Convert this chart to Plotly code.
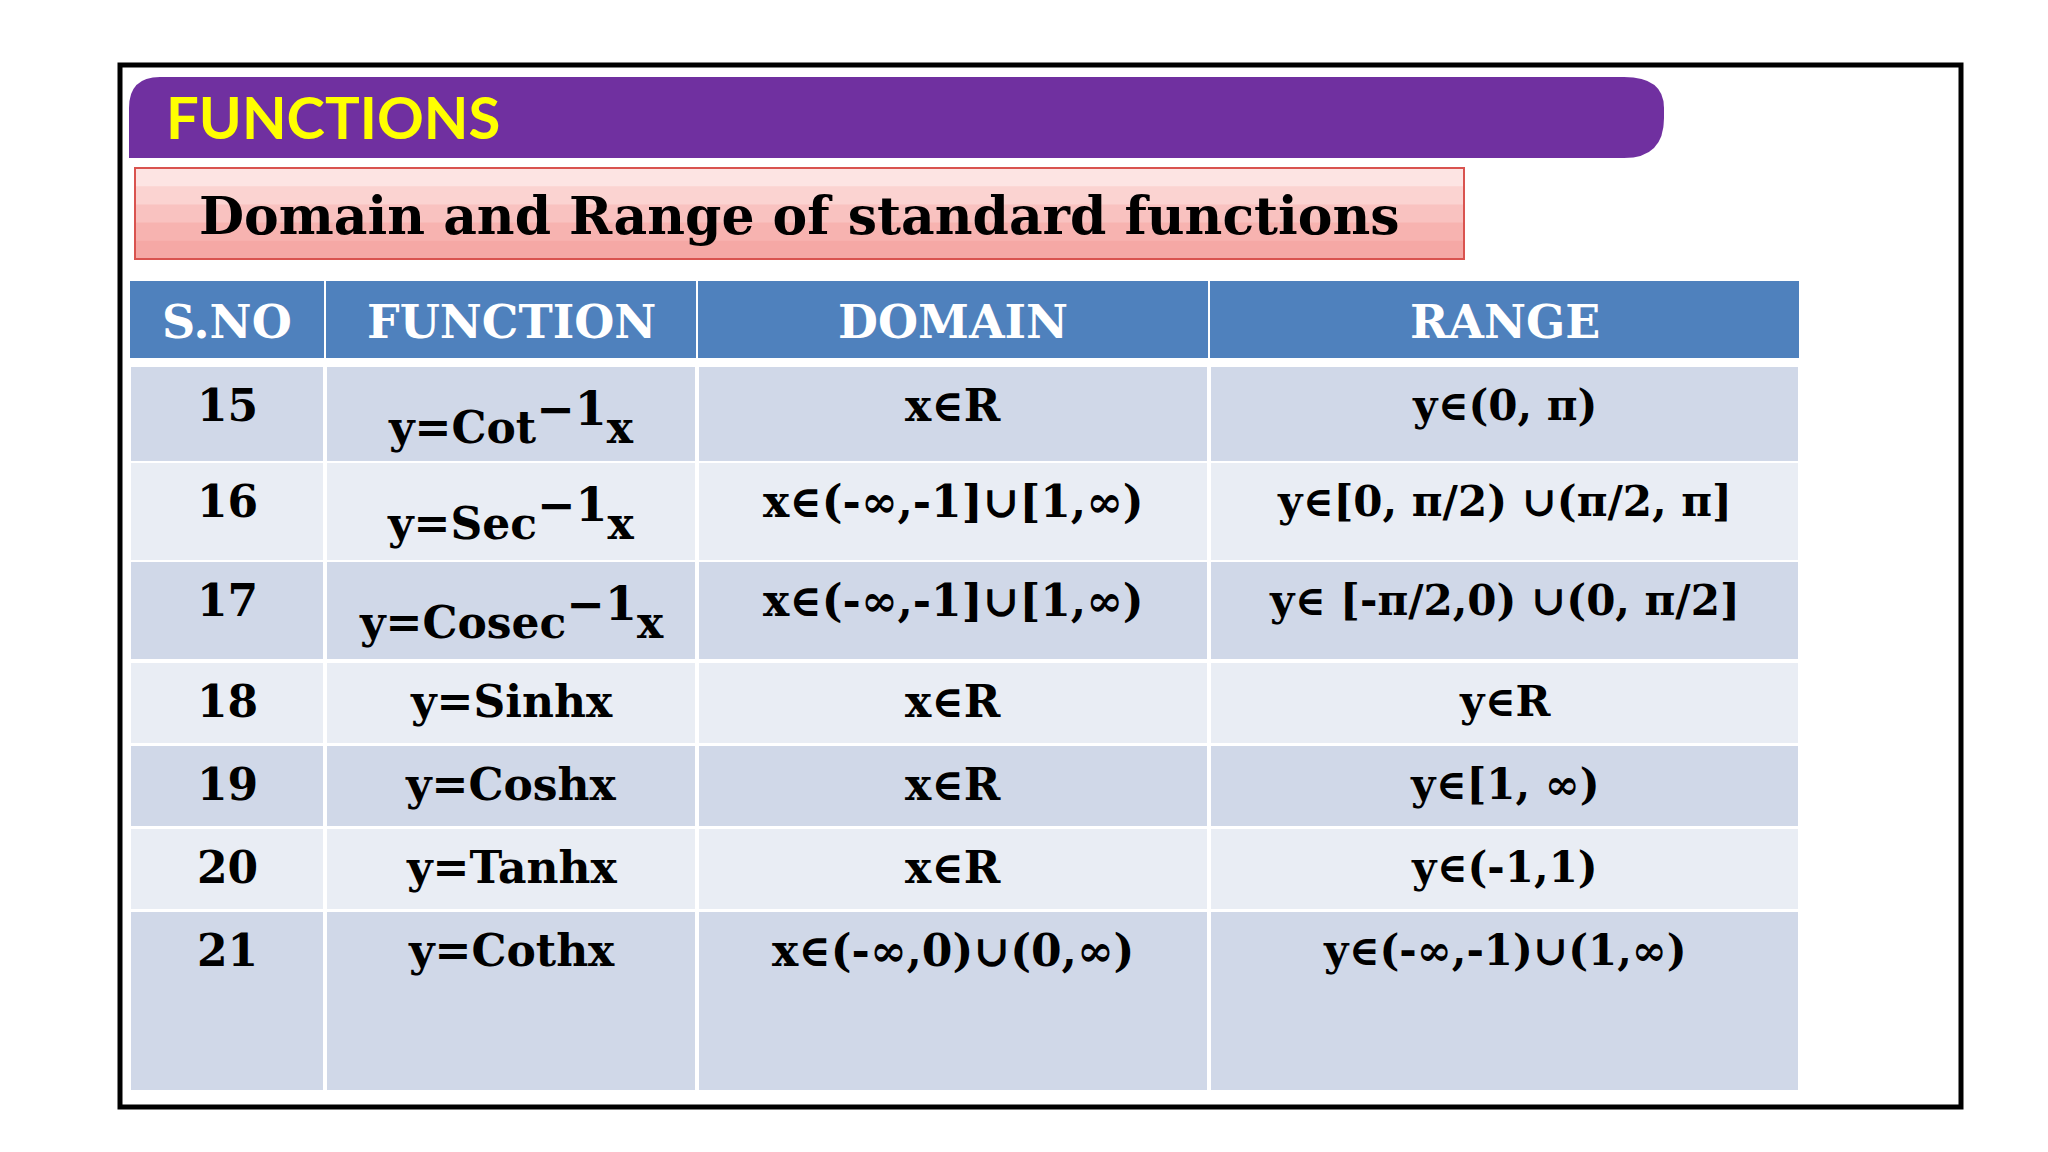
import plotly.graph_objects as go

# table content
headers = ["S.NO", "FUNCTION", "DOMAIN", "RANGE"]
sno = ["15", "16", "17", "18", "19", "20", "21"]
sup = "<sup><span style='font-size:46px'>−1</span></sup>"
functions = ["y=Cot" + sup + "x", "y=Sec" + sup + "x", "y=Cosec" + sup + "x",
             "y=Sinhx", "y=Coshx", "y=Tanhx", "y=Cothx"]
domains = ["x∈R", "x∈(-∞,-1]∪[1,∞)", "x∈(-∞,-1]∪[1,∞)", "x∈R", "x∈R", "x∈R",
           "x∈(-∞,0)∪(0,∞)"]
ranges = ["y∈(0, π)", "y∈[0, π/2) ∪(π/2, π]", "y∈ [-π/2,0) ∪(0, π/2]", "y∈R",
          "y∈[1, ∞)", "y∈(-1,1)", "y∈(-∞,-1)∪(1,∞)"]

col_edges = [121, 317, 689, 1201, 1792]
header_box = (273, 350)
row_boxes = [(359, 453), (455, 552), (554, 651), (655, 735), (738, 818), (821, 901), (904, 1082)]
row_fill = ["#D0D8E8", "#E9EDF4"]
serif = "DejaVu Serif"

fig = go.Figure()
shapes = []
ann = []

# outer frame
shapes.append(dict(type="rect", x0=112, x1=1953, y0=57, y1=1099,
                   line=dict(color="black", width=5), fillcolor="white", layer="below"))
# purple banner with rounded right end
shapes.append(dict(type="path",
                   path="M 121 150 L 121 100 Q 121 69 152 69 L 1616 69 Q 1656 69 1656 100 "
                        "L 1656 110 Q 1656 150 1616 150 Z",
                   fillcolor="#7030A0", line=dict(width=0)))
ann.append(dict(x=156, y=108, text="<b>FUNCTIONS</b>", xanchor="left", showarrow=False,
                font=dict(family="Lato", size=58, color="#FFFF00")))
# pink subtitle box (fake gradient)
pinks = ["#FDE4E3", "#FBD3D1", "#F9C2C0", "#F7B3B0", "#F5A8A5"]
for i, c in enumerate(pinks):
    y0 = 160 + i * 91 / len(pinks)
    shapes.append(dict(type="rect", x0=127, x1=1456, y0=y0, y1=y0 + 91 / len(pinks) + 1,
                       fillcolor=c, line=dict(width=0)))
shapes.append(dict(type="rect", x0=127, x1=1456, y0=160, y1=251,
                   line=dict(color="#D9534F", width=2)))
ann.append(dict(x=791, y=207, text="<b>Domain and Range of standard functions</b>",
                showarrow=False, font=dict(family=serif, size=52, color="black")))

# header
for j, h in enumerate(headers):
    shapes.append(dict(type="rect", x0=col_edges[j] + 1, x1=col_edges[j + 1] - 1,
                       y0=header_box[0], y1=header_box[1], fillcolor="#4F81BD", line=dict(width=0)))
    ann.append(dict(x=(col_edges[j] + col_edges[j + 1]) / 2, y=(header_box[0] + header_box[1]) / 2 + 2,
                    text="<b>" + h + "</b>", showarrow=False,
                    font=dict(family=serif, size=46, color="white")))

# body
for i, (y0, y1) in enumerate(row_boxes):
    for j in range(4):
        shapes.append(dict(type="rect", x0=col_edges[j] + 2, x1=col_edges[j + 1] - 2, y0=y0, y1=y1,
                           fillcolor=row_fill[i % 2], line=dict(width=0)))
    yt = y0 + 38
    cells = [sno[i], functions[i], domains[i], ranges[i]]
    for j, t in enumerate(cells):
        yy = yt + 12 if (j == 1 and i < 3) else yt
        ann.append(dict(x=(col_edges[j] + col_edges[j + 1]) / 2, y=yy, text="<b>" + t + "</b>",
                        showarrow=False,
                        font=dict(family=serif, size=44 if j < 3 else 42, color="black")))

fig.update_layout(width=2048, height=1152, margin=dict(l=0, r=0, t=0, b=0),
                  paper_bgcolor="white", plot_bgcolor="white", shapes=shapes, annotations=ann,
                  xaxis=dict(range=[0, 2048], visible=False),
                  yaxis=dict(range=[1152, 0], visible=False), showlegend=False)
fig.write_html("out.html")
